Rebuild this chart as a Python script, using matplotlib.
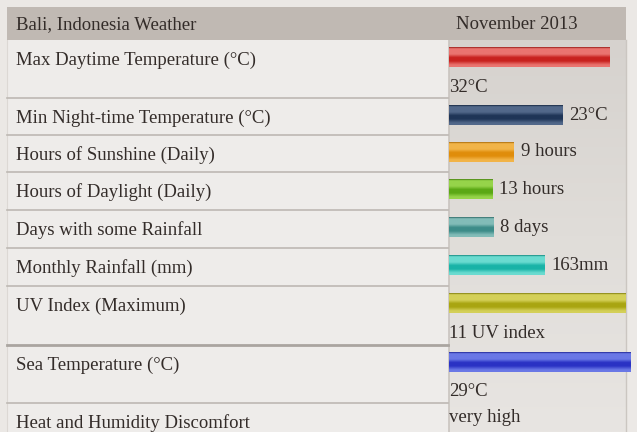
import numpy as np
import matplotlib
matplotlib.use("Agg")
import matplotlib.pyplot as plt
from matplotlib.colors import LinearSegmentedColormap
from matplotlib.patches import Rectangle

# ---------------- data ----------------
title_left = "Bali, Indonesia Weather"
title_right = "November 2013"
categories = [
    "Max Daytime Temperature (°C)",
    "Min Night-time Temperature (°C)",
    "Hours of Sunshine (Daily)",
    "Hours of Daylight (Daily)",
    "Days with some Rainfall",
    "Monthly Rainfall (mm)",
    "UV Index (Maximum)",
    "Sea Temperature (°C)",
    "Heat and Humidity Discomfort",
]
value_labels = ["32°C", "23°C", "9 hours", "13 hours", "8 days", "163mm",
                "11 UV index", "29°C", "very high"]
# bar length as percent of the value column; None = no bar
bar_percent = [89, 63, 36, 24, 24.5, 53, 98, 100.6, None]
# label placed below the bar (True) or at the bar end (False)
label_below = [True, False, False, False, False, False, True, True, True]
bar_base = ["#c8221f", "#1f3557", "#e08d0b", "#5ba815", "#3d8c89", "#19b3a7",
            "#a9a511", "#2a32c4", None]
bar_light = ["#ea7470", "#52688a", "#f2b448", "#96d44a", "#82bcb8", "#6adbd0",
             "#d4d058", "#6a78e6", None]

# ---------------- layout (pixels) ----------------
W, H = 637, 432
row_tops = [40, 98, 135, 172, 210, 248, 286, 345, 403]
panel_left, col_split, panel_right = 7, 449, 626
bar_h = 20
text_color = "#332c29"
font = "Liberation Serif"
fs = 13.5

fig = plt.figure(figsize=(W / 100, H / 100), dpi=100)
fig.patch.set_facecolor("#ebe8e5")
ax = fig.add_axes([0, 0, 1, 1])
ax.set_xlim(0, W)
ax.set_ylim(H, 0)
ax.axis("off")

# right column background gradient
grad = np.linspace(0, 1, 256).reshape(-1, 1)
rc_cmap = LinearSegmentedColormap.from_list("rc", ["#d6d2ce", "#e0ddd9", "#e8e5e2"])
ax.imshow(grad, cmap=rc_cmap, extent=(col_split, panel_right, H, 40),
          aspect="auto", zorder=0.5)
# strip to the right of the panel
ax.add_patch(Rectangle((panel_right, 40), W - panel_right, H - 40,
                       facecolor="#ece9e6", edgecolor="none", zorder=0.6))
ax.plot([panel_right, panel_right], [40, H], color="#cbc6c1", lw=1, zorder=0.7)
# left column
ax.add_patch(Rectangle((panel_left, 40), col_split - panel_left, H - 40,
                       facecolor="#eeecea", edgecolor="none", zorder=0.6))
ax.plot([col_split - 0.5, col_split - 0.5], [40, H], color="#c9c4bf", lw=1.2, zorder=0.7)
ax.plot([panel_left, panel_left], [40, H], color="#dcd8d4", lw=0.8, zorder=0.7)
# header
ax.add_patch(Rectangle((panel_left, 7), panel_right - panel_left, 33,
                       facecolor="#c0b9b3", edgecolor="none", zorder=0.8))
ax.text(16, 24.5, title_left, fontsize=fs, family=font, color=text_color,
        va="center", ha="left", zorder=3)
ax.text(517, 24.5, title_right, fontsize=fs, family=font, color=text_color,
        va="center", ha="center", zorder=3)

# row separators + labels
for i, (top, lab) in enumerate(zip(row_tops, categories)):
    if i > 0:
        lw = 2.0 if top == 345 else 1.2
        col = "#aaa5a0" if top == 345 else "#bdb8b3"
        ax.plot([panel_left, col_split - 1], [top, top], color=col, lw=lw, zorder=1)
    ax.text(16, top + 20, lab, fontsize=fs, family=font, color=text_color,
            va="center", ha="left", zorder=3)

# value column axes: 0..100 percent mapped to x 449..629
bx0, bx1 = 449, 629
axb = fig.add_axes([bx0 / W, 0, (bx1 - bx0) / W, 1])
axb.set_xlim(0, 100)
axb.set_ylim(H, 0)
axb.axis("off")
axb.patch.set_alpha(0)

px_per_unit = (bx1 - bx0) / 100.0
for i, top in enumerate(row_tops):
    pct = bar_percent[i]
    y0 = top + 7
    if pct is not None:
        yc = y0 + bar_h / 2
        bars = axb.barh([yc], [pct], height=bar_h, left=0,
                        color=bar_base[i], edgecolor="none", zorder=2, clip_on=False)
        b = bars[0]
        edge = LinearSegmentedColormap.from_list("e", [bar_base[i], "#000000"])(0.25)
        cm = LinearSegmentedColormap.from_list(
            "g%d" % i,
            [(0.0, edge), (0.07, bar_light[i]), (0.35, bar_light[i]),
             (0.52, bar_base[i]), (0.7, bar_base[i]), (0.9, bar_light[i]),
             (1.0, bar_light[i])])
        axb.imshow(np.linspace(0, 1, 64).reshape(-1, 1), cmap=cm,
                   extent=(b.get_x(), b.get_x() + b.get_width(),
                           y0 + bar_h, y0),
                   aspect="auto", zorder=2.5, clip_on=False,
                   interpolation="bilinear")
        if label_below[i]:
            axb.text(0.5 / px_per_unit, top + 47, value_labels[i], fontsize=fs,
                     family=font, color=text_color, va="center", ha="left", zorder=3)
        else:
            axb.text(pct + 7 / px_per_unit, yc, value_labels[i], fontsize=fs,
                     family=font, color=text_color, va="center", ha="left", zorder=3)
    else:
        axb.text(0.5 / px_per_unit, top + 15, value_labels[i], fontsize=fs,
                 family=font, color=text_color, va="center", ha="left", zorder=3)

axb.set_xlim(0, 100)
axb.set_ylim(H, 0)
fig.savefig("out.png", dpi=100, facecolor=fig.get_facecolor())
